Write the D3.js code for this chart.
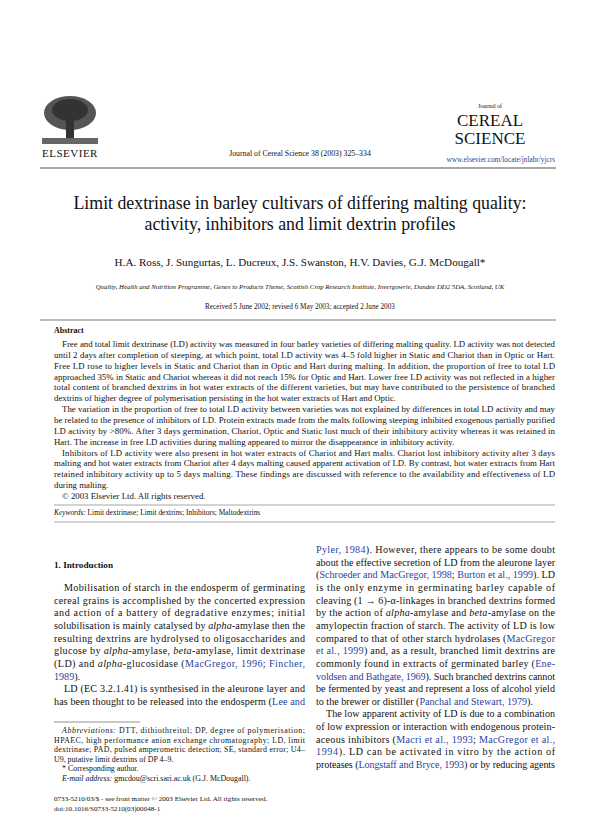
<!DOCTYPE html>
<html><head><meta charset="utf-8">
<script src="https://cdn.jsdelivr.net/npm/d3@7"></script>
<style>body{margin:0;background:#fff}</style></head>
<body><svg id="p" width="600" height="825"></svg>
<script>
const F="Liberation Serif, Times New Roman, serif";
const BLUE="#2a3fa0";
const abstractLines=[
["Free and total limit dextrinase (LD) activity was measured in four barley varieties of differing malting quality. LD activity was not detected",1,1],
["until 2 days after completion of steeping, at which point, total LD activity was 4–5 fold higher in Static and Chariot than in Optic or Hart.",1,0],
["Free LD rose to higher levels in Static and Chariot than in Optic and Hart during malting. In addition, the proportion of free to total LD",1,0],
["approached 35% in Static and Chariot whereas it did not reach 15% for Optic and Hart. Lower free LD activity was not reflected in a higher",1,0],
["total content of branched dextrins in hot water extracts of the different varieties, but may have contributed to the persistence of branched",1,0],
["dextrins of higher degree of polymerisation persisting in the hot water extracts of Hart and Optic.",0,0],
["The variation in the proportion of free to total LD activity between varieties was not explained by differences in total LD activity and may",1,1],
["be related to the presence of inhibitors of LD. Protein extracts made from the malts following steeping inhibited exogenous partially purified",1,0],
["LD activity by >80%. After 3 days germination, Chariot, Optic and Static lost much of their inhibitory activity whereas it was retained in",1,0],
["Hart. The increase in free LD activities during malting appeared to mirror the disappearance in inhibitory activity.",0,0],
["Inhibitors of LD activity were also present in hot water extracts of Chariot and Hart malts. Chariot lost inhibitory activity after 3 days",1,1],
["malting and hot water extracts from Chariot after 4 days malting caused apparent activation of LD. By contrast, hot water extracts from Hart",1,0],
["retained inhibitory activity up to 5 days malting. These findings are discussed with reference to the availability and effectiveness of LD",1,0],
["during malting.",0,0],
["© 2003 Elsevier Ltd. All rights reserved.",0,1]];
const leftLines=[
["Mobilisation of starch in the endosperm of germinating",1,1],
["cereal grains is accomplished by the concerted expression",1,0],
["and action of a battery of degradative enzymes; initial",1,0],
["solubilisation is mainly catalysed by _alpha_-amylase then the",1,0],
["resulting dextrins are hydrolysed to oligosaccharides and",1,0],
["glucose by _alpha_-amylase, _beta_-amylase, limit dextrinase",1,0],
["(LD) and _alpha_-glucosidase ({MacGregor, 1996}; {Fincher,}",1,0],
["{1989}).",0,0],
["LD (EC 3.2.1.41) is synthesised in the aleurone layer and",1,1],
["has been thought to be released into the endosperm ({Lee and}",1,0]];
const rightLines=[
["{Pyler, 1984}). However, there appears to be some doubt",1,0],
["about the effective secretion of LD from the aleurone layer",1,0],
["({Schroeder and MacGregor, 1998}; {Burton et al., 1999}). LD",1,0],
["is the only enzyme in germinating barley capable of",1,0],
["cleaving (1 → 6)-α-linkages in branched dextrins formed",1,0],
["by the action of _alpha_-amylase and _beta_-amylase on the",1,0],
["amylopectin fraction of starch. The activity of LD is low",1,0],
["compared to that of other starch hydrolases ({MacGregor}",1,0],
["{et al., 1999}) and, as a result, branched limit dextrins are",1,0],
["commonly found in extracts of germinated barley ({Ene-}",1,0],
["{voldsen and Bathgate, 1969}). Such branched dextrins cannot",1,0],
["be fermented by yeast and represent a loss of alcohol yield",1,0],
["to the brewer or distiller ({Panchal and Stewart, 1979}).",0,0],
["The low apparent activity of LD is due to a combination",1,1],
["of low expression or interaction with endogenous protein-",1,0],
["aceous inhibitors ({Macri et al., 1993}; {MacGregor et al.,}",1,0],
["{1994}). LD can be activated in vitro by the action of",1,0],
["proteases ({Longstaff and Bryce, 1993}) or by reducing agents",1,0]];
const footLines=[
["_Abbreviations:_ DTT, dithiothreitol; DP, degree of polymerisation;",1,1],
["HPAEC, high performance anion exchange chromatography; LD, limit",1,0],
["dextrinase; PAD, pulsed amperometric detection; SE, standard error; U4–",1,0],
["U9, putative limit dextrins of DP 4–9.",0,0],
["* Corresponding author.",0,1],
["_E-mail address:_ gmcdou@scri.sari.ac.uk (G.J. McDougall).",0,1]];

const svg=d3.select("#p").style("font-family",F);
function rich(sel,str){
  const re=/(\{[^}]*\}|_[^_]*_)/g;
  str.split(re).filter(s=>s.length).forEach(s=>{
    const t=sel.append("tspan");
    if(s[0]=="{"){t.text(s.slice(1,-1)).attr("fill",BLUE);}
    else if(s[0]=="_"&&s.length>1){t.text(s.slice(1,-1)).attr("font-style","italic");}
    else t.text(s);
  });
}
function block(lines,x0,x1,y0,dy,fs,ind){
  const y=d3.scaleLinear().domain([0,1]).range([y0,y0+dy]);
  lines.forEach((l,i)=>{
    const x=x0+(l[2]?ind:0);
    const t=svg.append("text").attr("x",x).attr("y",y(i)).attr("font-size",fs).attr("fill","#111");
    rich(t,l[0]);
    if(l[1]) t.attr("textLength",x1-x).attr("lengthAdjust","spacing");
  });
}
function txt(s,x,y,fs,o={}){
  const t=svg.append("text").attr("x",x).attr("y",y).attr("font-size",fs).attr("fill",o.fill||"#111")
   .attr("text-anchor",o.a||"start").attr("font-style",o.i?"italic":null).attr("font-weight",o.b?"bold":null);
  rich(t,s);return t;}
function rule(x0,x1,y,w=0.6){svg.append("line").attr("x1",x0).attr("x2",x1).attr("y1",y).attr("y2",y).attr("stroke","#222").attr("stroke-width",w);}

const g=svg.append("g");
g.append("ellipse").attr("cx",70).attr("cy",113).attr("rx",26).attr("ry",17).attr("fill","#555");
g.append("ellipse").attr("cx",70).attr("cy",110).attr("rx",18).attr("ry",11).attr("fill","#333");
g.append("rect").attr("x",66).attr("y",120).attr("width",8).attr("height",22).attr("fill","#333");
g.append("rect").attr("x",42).attr("y",138).attr("width",56).attr("height",6).attr("fill","#666");
txt("ELSEVIER",70,157,11,{a:"middle"}).attr("letter-spacing",0.5);
txt("Journal of",490,108,6,{a:"middle"});
txt("CEREAL",490,126,17,{a:"middle"});
txt("SCIENCE",490,144,17,{a:"middle"});
txt("Journal of Cereal Science 38 (2003) 325–334",300,156,7.8,{a:"middle"});
txt("{www.elsevier.com/locate/jnlabr/yjcrs}",555,162,7.3,{a:"end"});
rule(40,556,168,0.8);

txt("Limit dextrinase in barley cultivars of differing malting quality:",300,209,17.8,{a:"middle"});
txt("activity, inhibitors and limit dextrin profiles",300,230,17.8,{a:"middle"});
txt("H.A. Ross, J. Sungurtas, L. Ducreux, J.S. Swanston, H.V. Davies, G.J. McDougall*",300,266,11.1,{a:"middle"});
txt("Quality, Health and Nutrition Programme, Genes to Products Theme, Scottish Crop Research Institute, Invergowrie, Dundee DD2 5DA, Scotland, UK",300,289,6.8,{a:"middle",i:1});
txt("Received 5 June 2002; revised 6 May 2003; accepted 2 June 2003",300,309,7.2,{a:"middle"});
rule(40,556,320);
txt("Abstract",54,333,8,{b:1});
block(abstractLines,54,555,347,10.85,8.8,8);
rule(54,555,505,0.4);
txt("_Keywords:_ Limit dextrinase; Limit dextrins; Inhibitors; Maltodextrins",54,515,7.4);
rule(54,555,522,0.4);
txt("1. Introduction",54,568,9.2,{b:1});
block(leftLines,54,305,591,12.65,10.1,10);
rule(54,140,722,0.5);
block(footLines,54,305,733,9.6,7.9,8);
txt("0733-5210/03/$ - see front matter © 2003 Elsevier Ltd. All rights reserved.",54,801,7.1);
txt("doi:10.1016/S0733-5210(03)00048-1",54,811,7.1);
block(rightLines,316,555,553,12.65,10.1,10);
</script></body></html>
